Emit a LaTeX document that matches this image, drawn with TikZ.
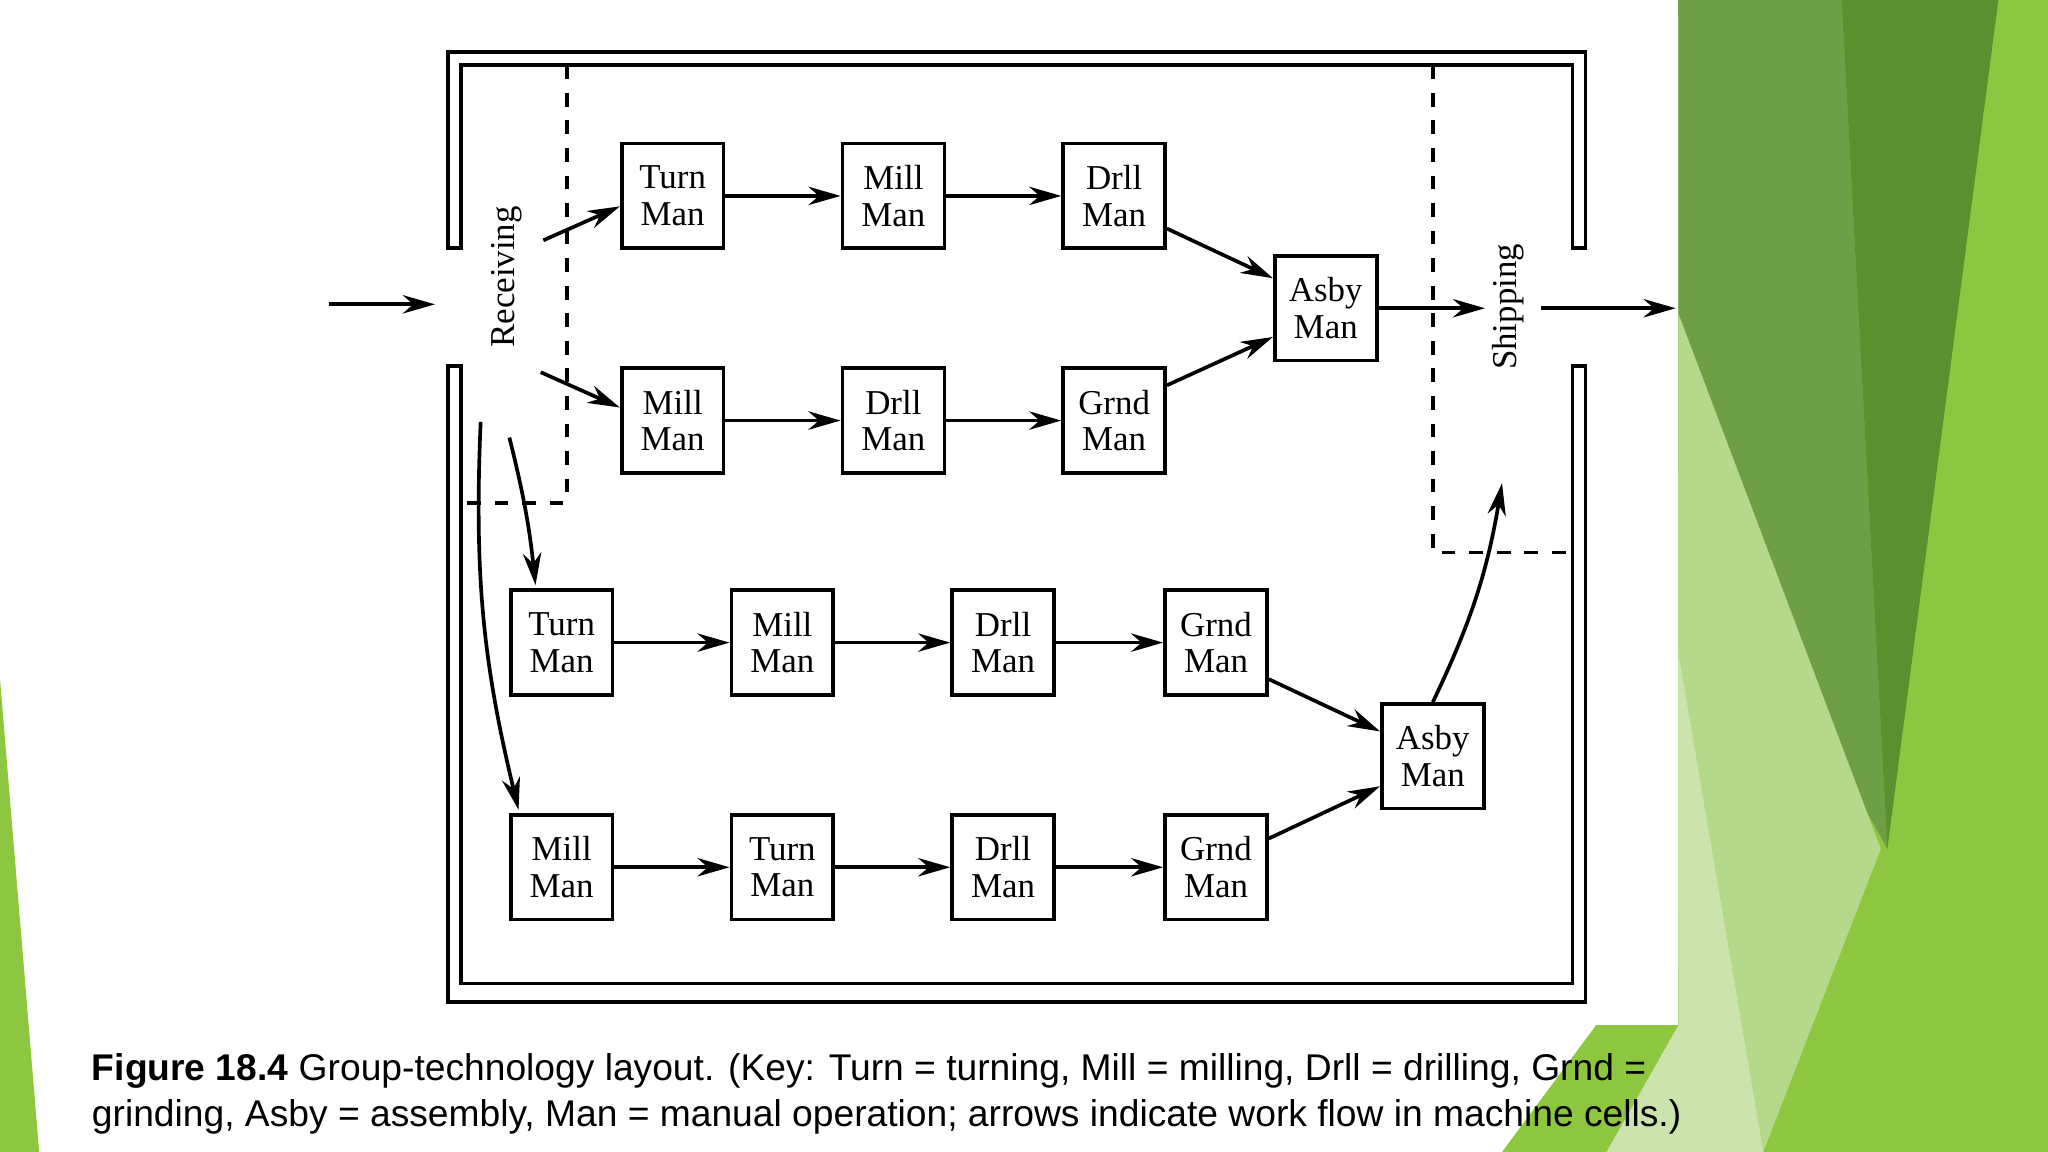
\documentclass[tikz,border=0pt]{standalone}
\usepackage{fontspec}
\setmainfont{Liberation Serif}
\newfontfamily\capfont{Liberation Sans}
\usetikzlibrary{arrows.meta}
\definecolor{leafA}{HTML}{8DC63F}
\definecolor{leafB}{HTML}{6E9E45}
\definecolor{leafC}{HTML}{B5D98A}
\definecolor{leafD}{HTML}{5C8F2E}
\begin{document}
\begin{tikzpicture}[x=0.01cm,y=-0.01cm, line cap=butt,
  mach/.style={draw, thick, minimum width=0.78cm, minimum height=0.8cm,
    inner sep=0pt, align=center, font=\fontsize{7.6}{8}\selectfont},
  flow/.style={-{Stealth[length=7pt,width=4pt]}, thick},
  wall/.style={thick},
  zone/.style={dashed, thick}]

% -----------------------------
% Slide background
% -----------------------------
\useasboundingbox (0,0) rectangle (1568,882);
\fill[white] (0,0) rectangle (1568,882);
\fill[leafA] (1285,0) -- (1568,0) -- (1568,882) -- (1150,882) -- (1285,700) -- cycle;
\fill[leafB] (1200,0) -- (1410,0) -- (1445,650) -- (1285,360) -- (1285,13) -- (1200,13) -- cycle;
\fill[leafC] (1285,240) -- (1440,650) -- (1350,882) -- (1285,740) -- cycle;
\fill[leafD] (1410,0) -- (1530,0) -- (1445,650) -- cycle;
\fill[leafC!70!white] (1285,500) -- (1350,882) -- (1230,882) -- (1285,785) -- cycle;
\fill[white] (0,0) rectangle (1285,785);
\fill[leafA] (0,520) -- (30,882) -- (0,882) -- cycle;

% -----------------------------
% Walls and zones
% -----------------------------
\draw[wall] (343,190) -- (343,40) -- (1214,40) -- (1214,190) -- (1204,190)
  -- (1204,50) -- (353,50) -- (353,190) -- cycle;
\draw[wall] (343,280) -- (343,767) -- (1214,767) -- (1214,280) -- (1204,280)
  -- (1204,753) -- (353,753) -- (353,280) -- cycle;
\draw[zone] (434,50) -- (434,385) -- (353,385);
\draw[zone] (1097,50) -- (1097,423) -- (1204,423);
\node[rotate=90, font=\fontsize{7.6}{8}\selectfont] (recv) at (388,212) {Receiving};
\node[rotate=90, font=\fontsize{7.6}{8}\selectfont] (ship) at (1155,235) {Shipping};

% -----------------------------
% Machine cells
% -----------------------------
\node[mach] (t1) at (515,150) {Turn\\Man};
\node[mach] (m1) at (684,150) {Mill\\Man};
\node[mach] (d1) at (853,150) {Drll\\Man};
\node[mach] (m2) at (515,322) {Mill\\Man};
\node[mach] (d2) at (684,322) {Drll\\Man};
\node[mach] (g2) at (853,322) {Grnd\\Man};
\node[mach] (a1) at (1015,236) {Asby\\Man};

\node[mach] (t3) at (430,492) {Turn\\Man};
\node[mach] (m3) at (599,492) {Mill\\Man};
\node[mach] (d3) at (768,492) {Drll\\Man};
\node[mach] (g3) at (931,492) {Grnd\\Man};
\node[mach] (m4) at (430,664) {Mill\\Man};
\node[mach] (t4) at (599,664) {Turn\\Man};
\node[mach] (d4) at (768,664) {Drll\\Man};
\node[mach] (g4) at (931,664) {Grnd\\Man};
\node[mach] (a2) at (1097,579) {Asby\\Man};

% free ends
\coordinate (inA) at (252,233);  \coordinate (inB) at (333,233);
\coordinate (outA) at (1180,236); \coordinate (outB) at (1283,236);
\coordinate (shipIn) at (1137,236);
\coordinate (r1) at (416,184); \coordinate (r2) at (414,285);
\coordinate (r3) at (390,335); \coordinate (r4) at (368,323);
\coordinate (r3e) at (410,448); \coordinate (r4e) at (397,620);
\coordinate (shipUp) at (1150,370);

% -----------------------------
% Work flow
% -----------------------------
\draw[flow] (inA) -- (inB);
\draw[flow] (outA) -- (outB);
\draw[flow] (a1.east) -- (shipIn);
\draw[flow] (r1) -- (t1.west |- 0,158);
\draw[flow] (r2) -- (m2.west |- 0,312);
\draw[flow] (r3) to[bend left=4] (r3e);
\draw[flow] (r4) to[bend right=8] (r4e);
\draw[flow] (a2.north) to[bend right=8] (shipUp);
\foreach \a/\b in {t1/m1,m1/d1,m2/d2,d2/g2,t3/m3,m3/d3,d3/g3,m4/t4,t4/d4,d4/g4}
  \draw[flow] (\a.east) -- (\b.west);
\draw[flow] (d1.east |- 0,175) -- (a1.west |- 0,213);
\draw[flow] (g2.east |- 0,295) -- (a1.west |- 0,258);
\draw[flow] (g3.east |- 0,520) -- (a2.west |- 0,560);
\draw[flow] (g4.east |- 0,642) -- (a2.west |- 0,602);

% -----------------------------
% Caption
% -----------------------------
\node[anchor=west, font=\capfont\fontsize{8.1}{10}\selectfont] (cap1) at (58,820)
  {\textbf{Figure 18.4} Group-technology layout. (Key: Turn = turning, Mill = milling, Drll = drilling, Grnd =};
\node[anchor=west, font=\capfont\fontsize{8.1}{10}\selectfont] (cap2) at (58,855)
  {grinding, Asby = assembly, Man = manual operation; arrows indicate work flow in machine cells.)};
\end{tikzpicture}
\end{document}
